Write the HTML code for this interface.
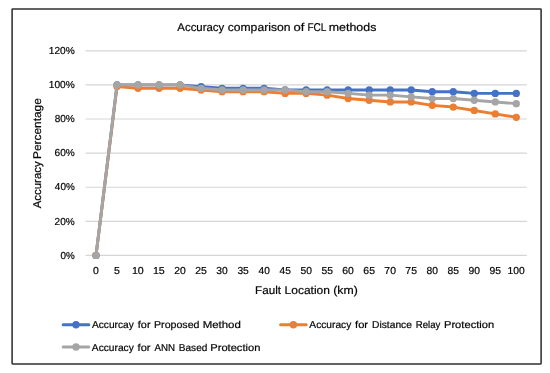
<!DOCTYPE html>
<html lang="en">
<head>
<meta charset="utf-8">
<title>Accuracy comparison of FCL methods</title>
<style>
  html, body { margin: 0; padding: 0; background: #ffffff; }
  body { width: 550px; height: 373px; overflow: hidden; }
  svg { display: block; filter: blur(0.3px); }
  text { font-family: "Liberation Sans", sans-serif; fill: #050505; stroke: #050505; stroke-width: 0.2px; text-rendering: geometricPrecision; white-space: pre; }
</style>
</head>
<body>
<svg width="550" height="373" viewBox="0 0 550 373">
<rect x="0" y="0" width="550" height="373" fill="#ffffff"/>
<rect x="12.1" y="8.9" width="529.0" height="355.0" fill="none" stroke="#303030" stroke-width="1.55" rx="0.6" ry="0.6"/>
<line x1="85.5" y1="255.40" x2="526.8" y2="255.40" stroke="#d5d5d5" stroke-width="1.15"/>
<line x1="85.5" y1="221.30" x2="526.8" y2="221.30" stroke="#d5d5d5" stroke-width="1.15"/>
<line x1="85.5" y1="187.20" x2="526.8" y2="187.20" stroke="#d5d5d5" stroke-width="1.15"/>
<line x1="85.5" y1="153.10" x2="526.8" y2="153.10" stroke="#d5d5d5" stroke-width="1.15"/>
<line x1="85.5" y1="119.00" x2="526.8" y2="119.00" stroke="#d5d5d5" stroke-width="1.15"/>
<line x1="85.5" y1="84.90" x2="526.8" y2="84.90" stroke="#d5d5d5" stroke-width="1.15"/>
<line x1="85.5" y1="50.80" x2="526.8" y2="50.80" stroke="#d5d5d5" stroke-width="1.15"/>
<polyline points="96.01,255.40 117.02,84.90 138.04,84.90 159.05,84.90 180.06,84.90 201.08,86.60 222.09,88.31 243.11,88.31 264.12,88.31 285.14,90.01 306.15,90.01 327.16,90.01 348.18,90.01 369.19,90.01 390.21,90.01 411.22,90.01 432.24,91.72 453.25,91.72 474.26,93.42 495.28,93.42 516.29,93.42" fill="none" stroke="#4472c4" stroke-width="2.9" stroke-linejoin="round" stroke-linecap="round"/>
<circle cx="96.01" cy="255.40" r="3.65" fill="#4472c4"/><circle cx="117.02" cy="84.90" r="3.65" fill="#4472c4"/><circle cx="138.04" cy="84.90" r="3.65" fill="#4472c4"/><circle cx="159.05" cy="84.90" r="3.65" fill="#4472c4"/><circle cx="180.06" cy="84.90" r="3.65" fill="#4472c4"/><circle cx="201.08" cy="86.60" r="3.65" fill="#4472c4"/><circle cx="222.09" cy="88.31" r="3.65" fill="#4472c4"/><circle cx="243.11" cy="88.31" r="3.65" fill="#4472c4"/><circle cx="264.12" cy="88.31" r="3.65" fill="#4472c4"/><circle cx="285.14" cy="90.01" r="3.65" fill="#4472c4"/><circle cx="306.15" cy="90.01" r="3.65" fill="#4472c4"/><circle cx="327.16" cy="90.01" r="3.65" fill="#4472c4"/><circle cx="348.18" cy="90.01" r="3.65" fill="#4472c4"/><circle cx="369.19" cy="90.01" r="3.65" fill="#4472c4"/><circle cx="390.21" cy="90.01" r="3.65" fill="#4472c4"/><circle cx="411.22" cy="90.01" r="3.65" fill="#4472c4"/><circle cx="432.24" cy="91.72" r="3.65" fill="#4472c4"/><circle cx="453.25" cy="91.72" r="3.65" fill="#4472c4"/><circle cx="474.26" cy="93.42" r="3.65" fill="#4472c4"/><circle cx="495.28" cy="93.42" r="3.65" fill="#4472c4"/><circle cx="516.29" cy="93.42" r="3.65" fill="#4472c4"/>
<polyline points="96.01,255.40 117.02,86.60 138.04,88.31 159.05,88.31 180.06,88.31 201.08,90.01 222.09,91.72 243.11,91.72 264.12,91.72 285.14,93.42 306.15,93.42 327.16,95.13 348.18,98.54 369.19,100.24 390.21,101.95 411.22,101.95 432.24,105.36 453.25,107.06 474.26,110.47 495.28,113.88 516.29,117.29" fill="none" stroke="#ed7d31" stroke-width="2.9" stroke-linejoin="round" stroke-linecap="round"/>
<circle cx="96.01" cy="255.40" r="3.65" fill="#ed7d31"/><circle cx="117.02" cy="86.60" r="3.65" fill="#ed7d31"/><circle cx="138.04" cy="88.31" r="3.65" fill="#ed7d31"/><circle cx="159.05" cy="88.31" r="3.65" fill="#ed7d31"/><circle cx="180.06" cy="88.31" r="3.65" fill="#ed7d31"/><circle cx="201.08" cy="90.01" r="3.65" fill="#ed7d31"/><circle cx="222.09" cy="91.72" r="3.65" fill="#ed7d31"/><circle cx="243.11" cy="91.72" r="3.65" fill="#ed7d31"/><circle cx="264.12" cy="91.72" r="3.65" fill="#ed7d31"/><circle cx="285.14" cy="93.42" r="3.65" fill="#ed7d31"/><circle cx="306.15" cy="93.42" r="3.65" fill="#ed7d31"/><circle cx="327.16" cy="95.13" r="3.65" fill="#ed7d31"/><circle cx="348.18" cy="98.54" r="3.65" fill="#ed7d31"/><circle cx="369.19" cy="100.24" r="3.65" fill="#ed7d31"/><circle cx="390.21" cy="101.95" r="3.65" fill="#ed7d31"/><circle cx="411.22" cy="101.95" r="3.65" fill="#ed7d31"/><circle cx="432.24" cy="105.36" r="3.65" fill="#ed7d31"/><circle cx="453.25" cy="107.06" r="3.65" fill="#ed7d31"/><circle cx="474.26" cy="110.47" r="3.65" fill="#ed7d31"/><circle cx="495.28" cy="113.88" r="3.65" fill="#ed7d31"/><circle cx="516.29" cy="117.29" r="3.65" fill="#ed7d31"/>
<polyline points="96.01,255.40 117.02,84.90 138.04,84.90 159.05,84.90 180.06,84.90 201.08,88.31 222.09,90.01 243.11,90.01 264.12,90.01 285.14,90.01 306.15,91.72 327.16,91.72 348.18,93.42 369.19,95.13 390.21,95.13 411.22,96.83 432.24,98.54 453.25,98.54 474.26,100.24 495.28,101.95 516.29,103.66" fill="none" stroke="#a5a5a5" stroke-width="2.9" stroke-linejoin="round" stroke-linecap="round"/>
<circle cx="96.01" cy="255.40" r="3.65" fill="#a5a5a5"/><circle cx="117.02" cy="84.90" r="3.65" fill="#a5a5a5"/><circle cx="138.04" cy="84.90" r="3.65" fill="#a5a5a5"/><circle cx="159.05" cy="84.90" r="3.65" fill="#a5a5a5"/><circle cx="180.06" cy="84.90" r="3.65" fill="#a5a5a5"/><circle cx="201.08" cy="88.31" r="3.65" fill="#a5a5a5"/><circle cx="222.09" cy="90.01" r="3.65" fill="#a5a5a5"/><circle cx="243.11" cy="90.01" r="3.65" fill="#a5a5a5"/><circle cx="264.12" cy="90.01" r="3.65" fill="#a5a5a5"/><circle cx="285.14" cy="90.01" r="3.65" fill="#a5a5a5"/><circle cx="306.15" cy="91.72" r="3.65" fill="#a5a5a5"/><circle cx="327.16" cy="91.72" r="3.65" fill="#a5a5a5"/><circle cx="348.18" cy="93.42" r="3.65" fill="#a5a5a5"/><circle cx="369.19" cy="95.13" r="3.65" fill="#a5a5a5"/><circle cx="390.21" cy="95.13" r="3.65" fill="#a5a5a5"/><circle cx="411.22" cy="96.83" r="3.65" fill="#a5a5a5"/><circle cx="432.24" cy="98.54" r="3.65" fill="#a5a5a5"/><circle cx="453.25" cy="98.54" r="3.65" fill="#a5a5a5"/><circle cx="474.26" cy="100.24" r="3.65" fill="#a5a5a5"/><circle cx="495.28" cy="101.95" r="3.65" fill="#a5a5a5"/><circle cx="516.29" cy="103.66" r="3.65" fill="#a5a5a5"/>
<text y="30.60" font-size="11.3"><tspan x="177.35" textLength="46.91" lengthAdjust="spacingAndGlyphs">Accuracy</tspan> <tspan x="227.68" textLength="62.81" lengthAdjust="spacingAndGlyphs">comparison</tspan> <tspan x="293.55" textLength="10.85" lengthAdjust="spacingAndGlyphs">of</tspan> <tspan x="307.39" textLength="18.65" lengthAdjust="spacingAndGlyphs">FCL</tspan> <tspan x="328.76" textLength="47.60" lengthAdjust="spacingAndGlyphs">methods</tspan></text>
<text x="60.51" y="258.60" font-size="10.1" textLength="14.25" lengthAdjust="spacingAndGlyphs">0%</text>
<text x="54.59" y="224.50" font-size="10.1" textLength="20.17" lengthAdjust="spacingAndGlyphs">20%</text>
<text x="54.87" y="190.40" font-size="10.1" textLength="19.89" lengthAdjust="spacingAndGlyphs">40%</text>
<text x="54.58" y="156.30" font-size="10.1" textLength="20.18" lengthAdjust="spacingAndGlyphs">60%</text>
<text x="54.66" y="122.20" font-size="10.1" textLength="20.10" lengthAdjust="spacingAndGlyphs">80%</text>
<text x="48.72" y="88.10" font-size="10.1" textLength="26.05" lengthAdjust="spacingAndGlyphs">100%</text>
<text x="48.72" y="54.00" font-size="10.1" textLength="26.05" lengthAdjust="spacingAndGlyphs">120%</text>
<text x="93.10" y="274.2" font-size="10.1" textLength="5.83" lengthAdjust="spacingAndGlyphs">0</text>
<text x="114.07" y="274.2" font-size="10.1" textLength="5.90" lengthAdjust="spacingAndGlyphs">5</text>
<text x="131.92" y="274.2" font-size="10.1" textLength="11.84" lengthAdjust="spacingAndGlyphs">10</text>
<text x="152.94" y="274.2" font-size="10.1" textLength="11.88" lengthAdjust="spacingAndGlyphs">15</text>
<text x="174.24" y="274.2" font-size="10.1" textLength="11.54" lengthAdjust="spacingAndGlyphs">20</text>
<text x="195.25" y="274.2" font-size="10.1" textLength="11.58" lengthAdjust="spacingAndGlyphs">25</text>
<text x="216.39" y="274.2" font-size="10.1" textLength="11.42" lengthAdjust="spacingAndGlyphs">30</text>
<text x="237.40" y="274.2" font-size="10.1" textLength="11.45" lengthAdjust="spacingAndGlyphs">35</text>
<text x="258.59" y="274.2" font-size="10.1" textLength="11.24" lengthAdjust="spacingAndGlyphs">40</text>
<text x="279.60" y="274.2" font-size="10.1" textLength="11.28" lengthAdjust="spacingAndGlyphs">45</text>
<text x="300.41" y="274.2" font-size="10.1" textLength="11.45" lengthAdjust="spacingAndGlyphs">50</text>
<text x="321.43" y="274.2" font-size="10.1" textLength="11.49" lengthAdjust="spacingAndGlyphs">55</text>
<text x="342.35" y="274.2" font-size="10.1" textLength="11.55" lengthAdjust="spacingAndGlyphs">60</text>
<text x="363.36" y="274.2" font-size="10.1" textLength="11.59" lengthAdjust="spacingAndGlyphs">65</text>
<text x="384.37" y="274.2" font-size="10.1" textLength="11.56" lengthAdjust="spacingAndGlyphs">70</text>
<text x="405.39" y="274.2" font-size="10.1" textLength="11.59" lengthAdjust="spacingAndGlyphs">75</text>
<text x="426.48" y="274.2" font-size="10.1" textLength="11.47" lengthAdjust="spacingAndGlyphs">80</text>
<text x="447.50" y="274.2" font-size="10.1" textLength="11.50" lengthAdjust="spacingAndGlyphs">85</text>
<text x="468.48" y="274.2" font-size="10.1" textLength="11.51" lengthAdjust="spacingAndGlyphs">90</text>
<text x="489.49" y="274.2" font-size="10.1" textLength="11.54" lengthAdjust="spacingAndGlyphs">95</text>
<text x="507.51" y="274.2" font-size="10.1" textLength="17.19" lengthAdjust="spacingAndGlyphs">100</text>
<text y="294.00" font-size="11.3"><tspan x="255.04" textLength="25.95" lengthAdjust="spacingAndGlyphs">Fault</tspan> <tspan x="284.61" textLength="45.36" lengthAdjust="spacingAndGlyphs">Location</tspan> <tspan x="333.23" textLength="24.54" lengthAdjust="spacingAndGlyphs">(km)</tspan></text>
<text y="0.00" font-size="11.3" transform="translate(40.9,208.3) rotate(-90)"><tspan x="0.05" textLength="46.91" lengthAdjust="spacingAndGlyphs">Accuracy</tspan> <tspan x="49.32" textLength="60.82" lengthAdjust="spacingAndGlyphs">Percentage</tspan></text>
<line x1="63.2" y1="324.8" x2="88.8" y2="324.8" stroke="#4472c4" stroke-width="3.0" stroke-linecap="round"/><circle cx="76.0" cy="324.8" r="3.7" fill="#4472c4"/>
<text y="328.30" font-size="10.0"><tspan x="91.96" textLength="41.80" lengthAdjust="spacingAndGlyphs">Accurcay</tspan> <tspan x="137.84" textLength="12.73" lengthAdjust="spacingAndGlyphs">for</tspan> <tspan x="154.03" textLength="45.46" lengthAdjust="spacingAndGlyphs">Proposed</tspan> <tspan x="202.66" textLength="38.18" lengthAdjust="spacingAndGlyphs">Method</tspan></text>
<line x1="280.6" y1="324.8" x2="306.2" y2="324.8" stroke="#ed7d31" stroke-width="3.0" stroke-linecap="round"/><circle cx="293.4" cy="324.8" r="3.7" fill="#ed7d31"/>
<text y="328.30" font-size="10.0"><tspan x="309.36" textLength="41.90" lengthAdjust="spacingAndGlyphs">Accuracy</tspan> <tspan x="355.04" textLength="13.03" lengthAdjust="spacingAndGlyphs">for</tspan> <tspan x="372.06" textLength="39.90" lengthAdjust="spacingAndGlyphs">Distance</tspan> <tspan x="415.81" textLength="24.63" lengthAdjust="spacingAndGlyphs">Relay</tspan> <tspan x="443.98" textLength="50.23" lengthAdjust="spacingAndGlyphs">Protection</tspan></text>
<line x1="63.2" y1="347.0" x2="88.8" y2="347.0" stroke="#a5a5a5" stroke-width="3.0" stroke-linecap="round"/><circle cx="76.0" cy="347.0" r="3.7" fill="#a5a5a5"/>
<text y="350.50" font-size="10.0"><tspan x="91.86" textLength="41.90" lengthAdjust="spacingAndGlyphs">Accuracy</tspan> <tspan x="137.64" textLength="12.93" lengthAdjust="spacingAndGlyphs">for</tspan> <tspan x="154.56" textLength="20.53" lengthAdjust="spacingAndGlyphs">ANN</tspan> <tspan x="178.77" textLength="28.58" lengthAdjust="spacingAndGlyphs">Based</tspan> <tspan x="210.28" textLength="50.13" lengthAdjust="spacingAndGlyphs">Protection</tspan></text>
</svg>
</body>
</html>
